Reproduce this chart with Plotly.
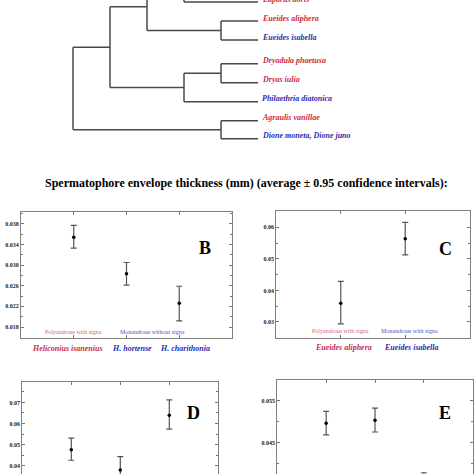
import plotly.graph_objects as go

RED = "#cc2a48"
BLUE = "#2c2cae"
SERIF = "Liberation Serif, Times New Roman, serif"

# ---- cladogram (only its lower part is inside the crop) ----
leaf_names = ["Heliconius", "Laparus doris", "Eueides aliphera", "Eueides isabella",
              "Dryadula phaetusa", "Dryas iulia", "Philaethria diatonica",
              "Agraulis vanillae", "Dione moneta, Dione juno"]
leaf_rows = [-2, 0, 1, 2, 3.25, 4.25, 5.25, 6.25, 7.2]
leaf_colors = [RED, RED, RED, BLUE, RED, RED, BLUE, RED, BLUE]
leaf_depth = 5
# (node depth, children); ints are leaf indices
tree = (0, [(1, [(2, [(3, [0, 1]), (4, [2, 3])]),
                 (3, [(4, [4, 5]), 6])]),
            (4, [7, 8])])

# ---- spermatophore envelope thickness, mean and 0.95 CI ----
b_species = ["Heliconius isanenius", "H. hortense", "H. charithonia"]
b_colors = [RED, BLUE, BLUE]
b_mean = [0.0354, 0.0283, 0.0226]
b_low = [0.0333, 0.0261, 0.0192]
b_high = [0.0377, 0.0305, 0.0259]

c_species = ["Eueides aliphera", "Eueides isabella"]
c_colors = [RED, BLUE]
c_mean = [0.0359, 0.0564]
c_low = [0.0294, 0.0513]
c_high = [0.0429, 0.0616]

d_mean = [0.0476, 0.0380, 0.0639]
d_low = [0.0426, 0.0317, 0.0573]
d_high = [0.0531, 0.0443, 0.0712]

e_mean = [0.0496, 0.0503, 0.0350]
e_low = [0.0468, 0.0475, 0.0322]
e_high = [0.0524, 0.0532, 0.0378]

fig = go.Figure()

# tree lines
tx, ty = [], []


def walk(node):
    if isinstance(node, int):
        return leaf_depth, leaf_rows[node]
    depth, kids = node
    pos = [walk(k) for k in kids]
    ys = [p[1] for p in pos]
    tx.extend([depth, depth, None])
    ty.extend([min(ys), max(ys), None])
    for cd, cy in pos:
        tx.extend([depth, cd, None])
        ty.extend([cy, cy, None])
    return depth, (min(ys) + max(ys)) / 2


walk(tree)
fig.add_trace(go.Scatter(x=tx, y=ty, mode="lines", xaxis="x", yaxis="y",
                         line=dict(color="#4a4a4a", width=1.5),
                         hoverinfo="skip", showlegend=False))

annotations = []
for name, row, col in zip(leaf_names, leaf_rows, leaf_colors):
    annotations.append(dict(x=leaf_depth, y=row, xref="x", yref="y", text=name,
                            xanchor="left", yanchor="middle", xshift=2, yshift=3,
                            showarrow=False,
                            font=dict(family=SERIF, size=8, color=col, style="italic",
                                      weight="bold")))


def add_panel(n, mean, low, high):
    xs = list(range(1, len(mean) + 1))
    fig.add_trace(go.Scatter(
        x=xs, y=mean, mode="markers", xaxis=f"x{n}", yaxis=f"y{n}",
        marker=dict(color="black", size=3.5),
        error_y=dict(type="data", symmetric=False,
                     array=[h - m for h, m in zip(high, mean)],
                     arrayminus=[m - l for m, l in zip(mean, low)],
                     color="#555555", thickness=1.2, width=3),
        showlegend=False))


add_panel(2, b_mean, b_low, b_high)
add_panel(3, c_mean, c_low, c_high)
add_panel(4, d_mean, d_low, d_high)
add_panel(5, e_mean, e_low, e_high)

n_cats = {2: 3, 3: 2, 4: 3, 5: 3}
tickfont = dict(family=SERIF, size=6, color="#222222", weight="bold")


def xax(dom, rng, n, side="bottom", mirror="allticks"):
    return dict(domain=dom, range=rng, anchor=f"y{n}", side=side,
                tickvals=list(range(1, n_cats[n] + 1)), showticklabels=False,
                ticks="inside", ticklen=3, tickcolor="#777777",
                showline=True, linecolor="#808080", linewidth=1, mirror=mirror,
                showgrid=False, zeroline=False, fixedrange=True)


def yax(dom, rng, n, tick0, dtick, fmt):
    return dict(domain=dom, range=rng, anchor=f"x{n}", tick0=tick0, dtick=dtick,
                tickformat=fmt, tickfont=tickfont, ticks="inside", ticklen=3,
                tickcolor="#777777", minor=dict(ticks="inside", ticklen=2,
                                                dtick=dtick / 2, tickcolor="#777777"),
                showline=True, linecolor="#808080", linewidth=1, mirror="allticks",
                showgrid=False, zeroline=False, fixedrange=True)


# title
annotations.append(dict(
    x=0.521, y=1 - 183 / 474, xref="paper", yref="paper", showarrow=False,
    text="Spermatophore envelope thickness (mm) (average ± 0.95 confidence intervals):",
    font=dict(family=SERIF, size=12, color="black", weight="bold")))

# panel letters
for n, letter, lx, ly in [(2, "B", 0.91, 0.806), (3, "C", 0.919, 0.797),
                          (4, "D", 0.915, 0.794), (5, "E", 0.899, 0.776)]:
    annotations.append(dict(x=lx, y=ly, xref=f"x{n} domain", yref=f"y{n} domain",
                            text=letter, showarrow=False,
                            font=dict(family=SERIF, size=18, color="black",
                                      weight="bold")))

# mating system notes inside B and C
notes = [(2, 1, "Polyandrous with signa", "#dd5c78"),
         (2, 2.5, "Monandrous without signa", "#5252c4"),
         (3, 1, "Polyandrous with signa", "#dd5c78"),
         (3, 2.06, "Monandrous with signa", "#5252c4")]
for n, nx, txt, col in notes:
    annotations.append(dict(x=nx, y=0.05, xref=f"x{n}", yref=f"y{n} domain", text=txt,
                            showarrow=False, yanchor="middle",
                            font=dict(family=SERIF, size=6, color=col)))

# species names under B and C
b_label_x = [0.89, 2.1, 3.1]
c_label_x = [1.04, 2.1]
for n, names, cols, xs in [(2, b_species, b_colors, b_label_x),
                           (3, c_species, c_colors, c_label_x)]:
    for name, col, lx in zip(names, cols, xs):
        annotations.append(dict(x=lx, y=-0.08, xref=f"x{n}", yref=f"y{n} domain",
                                text=name, showarrow=False, yanchor="middle",
                                font=dict(family=SERIF, size=8, color=col,
                                          style="italic", weight="bold")))

fig.update_layout(
    width=474, height=474,
    margin=dict(l=0, r=0, t=0, b=0),
    paper_bgcolor="white", plot_bgcolor="white",
    xaxis=dict(domain=[0, 1], range=[-73 / 37, 401 / 37], visible=False, fixedrange=True),
    yaxis=dict(domain=[0, 1], range=[472 / 19, -2 / 19], visible=False, fixedrange=True),
    xaxis2=xax([21 / 474, 232 / 474], [0, 4], 2),
    yaxis2=yax([1 - 338 / 474, 1 - 211.5 / 474], [0.01587, 0.04038], 2, 0.018, 0.004, ".3f"),
    xaxis3=xax([276.3 / 474, 469.7 / 474], [0, 3], 3),
    yaxis3=yax([1 - 337.7 / 474, 1 - 211 / 474], [0.0250, 0.0652], 3, 0.03, 0.01, ".2f"),
    xaxis4=xax([22.3 / 474, 218.3 / 474], [0, 4], 4, side="top", mirror=False),
    yaxis4=yax([0, 1 - 381.7 / 474], [0.0361, 0.0798], 4, 0.04, 0.01, ".2f"),
    xaxis5=xax([277.3 / 474, 472.7 / 474], [0, 4], 5, side="top", mirror=False),
    yaxis5=yax([0, 1 - 379.5 / 474], [0.0375, 0.0600], 5, 0.005, 0.01, ".3f"),
    annotations=annotations,
)

# drop the default page margin so the figure sits at the window's corner
fig.write_html("out.html", config={"displayModeBar": False},
               post_script="document.body.style.margin='0';"
                           "document.body.style.overflow='hidden';")
